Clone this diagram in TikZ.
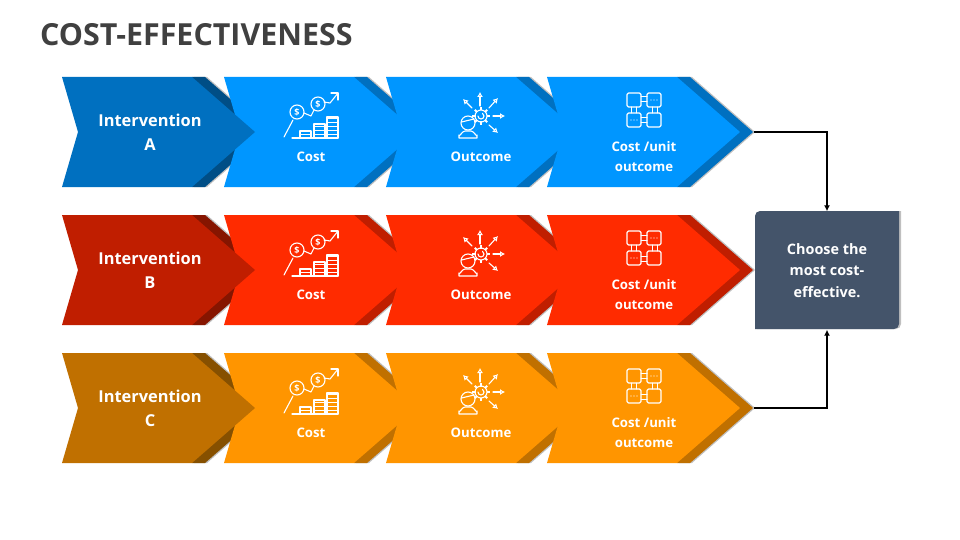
\documentclass[tikz,border=0pt]{standalone}
\usepackage{fontspec}
\setmainfont{Open Sans}
\usetikzlibrary{arrows.meta, shadows}
\definecolor{blueDark}{HTML}{0070C0}
\definecolor{blueLight}{HTML}{0096FF}
\definecolor{blueFold}{HTML}{004E86}
\definecolor{redDark}{HTML}{C01E00}
\definecolor{redLight}{HTML}{FF2B00}
\definecolor{redFold}{HTML}{861500}
\definecolor{amberDark}{HTML}{C07000}
\definecolor{amberLight}{HTML}{FF9500}
\definecolor{amberFold}{HTML}{865000}
\definecolor{slateBox}{HTML}{44546A}
\definecolor{titleGrey}{HTML}{404040}
\tikzset{
	x = 1pt,
	y = -1pt,
	softshadow/.style={
		drop shadow={shadow xshift=2pt, shadow yshift=0pt, opacity=.25, fill=black}
	},
	label/.style={
		text=white,
		align=center,
		font=\fontsize{13.2}{20}\selectfont\bfseries
	},
	headlabel/.style={
		text=white,
		align=center,
		font=\fontsize{16.4}{24}\selectfont\bfseries
	},
	icon/.style={
		draw=white,
		line width=1.1pt,
		line cap=round,
		line join=round
	},
	flow/.style={
		-{Latex[length=6pt,width=6pt]},
		line width=1.5pt,
		black
	},
	pics/costicon/.style={
		code={
			\draw[icon] (-27,22) -- (-18,5);
			\draw[icon] (-14,-3) circle[radius=7];
			\draw[icon] (7,-11) circle[radius=7];
			\node[text=white, font=\fontsize{9}{9}\selectfont\bfseries] (-one) at (-14,-3) {\$};
			\node[text=white, font=\fontsize{9}{9}\selectfont\bfseries] (-two) at (7,-11) {\$};
			\draw[icon] (-7,-2) -- (0,1) -- (3,-5);
			\draw[icon] (13,-13) -- (19,-12) -- (27,-22);
			\draw[icon] (20,-22) -- (27,-22) -- (27,-15);
			\draw[icon] (-19,23) -- (27,23);
			\foreach \l/\h/\t in {-11/0/16, 3/14/9, 16/27/2} {
				\draw[icon] (\l,23) -- (\l,\t) -- (\h,\t) -- (\h,23);
				\foreach \s in {19,15,11,7,3} {
					\ifnum\s>\t
						\draw[icon, line width=.9pt] (\l,\s) -- (\h,\s);
					\fi
				}
			}
		}
	},
	pics/outcomeicon/.style={
		code={
			\foreach \a in {0,45,...,315} {
				\draw[icon, line width=2pt, line cap=butt] (\a:5.5) -- (\a:8.7);
			}
			\draw[icon] (0,0) circle[radius=6];
			\draw[icon] (-3,0) arc[start angle=180, end angle=-60, radius=3];
			\foreach \fx/\fy/\tx/\ty in {-1/-10/-1/-24, -9/-8/-18/-17, 8/-8/17/-18, 12/0/24/0, 8/9/17/17} {
				\draw[icon, -{Latex[open, length=5pt, width=6pt]}] (\fx,\fy) -- (\tx,\ty);
			}
			\draw[icon, fill=iconBack] (-13,7) circle[radius=7];
			\draw[icon] (-19.5,6) -- (-7,3);
			\draw[icon, fill=iconBack] (-22,22) -- (-22,19) to[out=-90, in=180] (-16,15) -- (-10,15) to[out=0, in=-90] (-4,19) -- (-4,22) -- cycle;
		}
	},
	pics/uniticon/.style={
		code={
			\foreach \bx/\by in {-17/-17, 3/-17, -17/3, 3/3} {
				\draw[icon, rounded corners=1.5pt] (\bx,\by) rectangle ++(14,14);
			}
			\foreach \ty in {-13,-8,8,13} {
				\draw[icon, line width=1pt] (-3,\ty) -- (3,\ty);
			}
			\foreach \tx in {-13,-8,8,13} {
				\draw[icon, line width=1pt] (\tx,-3) -- (\tx,3);
			}
			\foreach \dx in {7,10,13} {
				\fill[white] (\dx,-10) circle[radius=.7];
				\fill[white] (\dx-20,10) circle[radius=.7];
			}
		}
	}
}
\begin{document}
\begin{tikzpicture}
	\useasboundingbox (0,0) rectangle (960,540);
	\fill[white] (0,0) rectangle (960,540);

	\node[anchor=west, inner sep=0pt, text=titleGrey, font=\fontsize{30.4}{32}\selectfont\bfseries] (title) at (40,35) {COST-EFFECTIVENESS};

	% one row per intervention
	\foreach \r/\dk/\lt/\fd/\yy in {A/blueDark/blueLight/blueFold/0, B/redDark/redLight/redFold/138, C/amberDark/amberLight/amberFold/276} {
		\colorlet{iconBack}{\lt}
		\begin{scope}[shift={(0,\yy)}]
			\foreach \xx/\ff in {62/\fd,224/\dk,386/\dk,547/\dk} {
				\fill[\ff, softshadow] (\xx+130,77) -- (\xx+143,77) -- (\xx+206,132) -- (\xx+143,187) -- (\xx+130,187) -- cycle;
			}
			\foreach \xx/\cc in {547/\lt,386/\lt,224/\lt,62/\dk} {
				\fill[\cc] (\xx,77) -- (\xx+130,77) -- (\xx+193,132) -- (\xx+130,187) -- (\xx,187) -- (\xx+16,132) -- cycle;
			}
			\coordinate (tip-\r) at (754,132);

			\node[headlabel] (head-\r) at (150,132) {Intervention\\\r};
			\pic (cost-\r) at (311,115) {costicon};
			\node[label] (costtext-\r) at (311,157) {Cost};
			\pic (out-\r) at (481,116) {outcomeicon};
			\node[label] (outtext-\r) at (481,157) {Outcome};
			\pic (unit-\r) at (644,110) {uniticon};
			\node[label] (unittext-\r) at (644,157) {Cost /unit\\outcome};
		\end{scope}
	}

	\fill[slateBox, softshadow, rounded corners=5pt] (755,211) [sharp corners] -- (899,211) [rounded corners=5pt] -- (899,329) [sharp corners] -- (755,329) [rounded corners=5pt] -- cycle;
	\node[text=white, align=center, minimum width=144pt, minimum height=118pt, font=\fontsize{14.4}{21.5}\selectfont\bfseries] (choose) at (827,270.5) {Choose the\\most cost-\\effective.};

	\draw[flow] (tip-A) -| (choose.north);
	\draw[flow] (tip-C) -| (choose.south);
\end{tikzpicture}
\end{document}
